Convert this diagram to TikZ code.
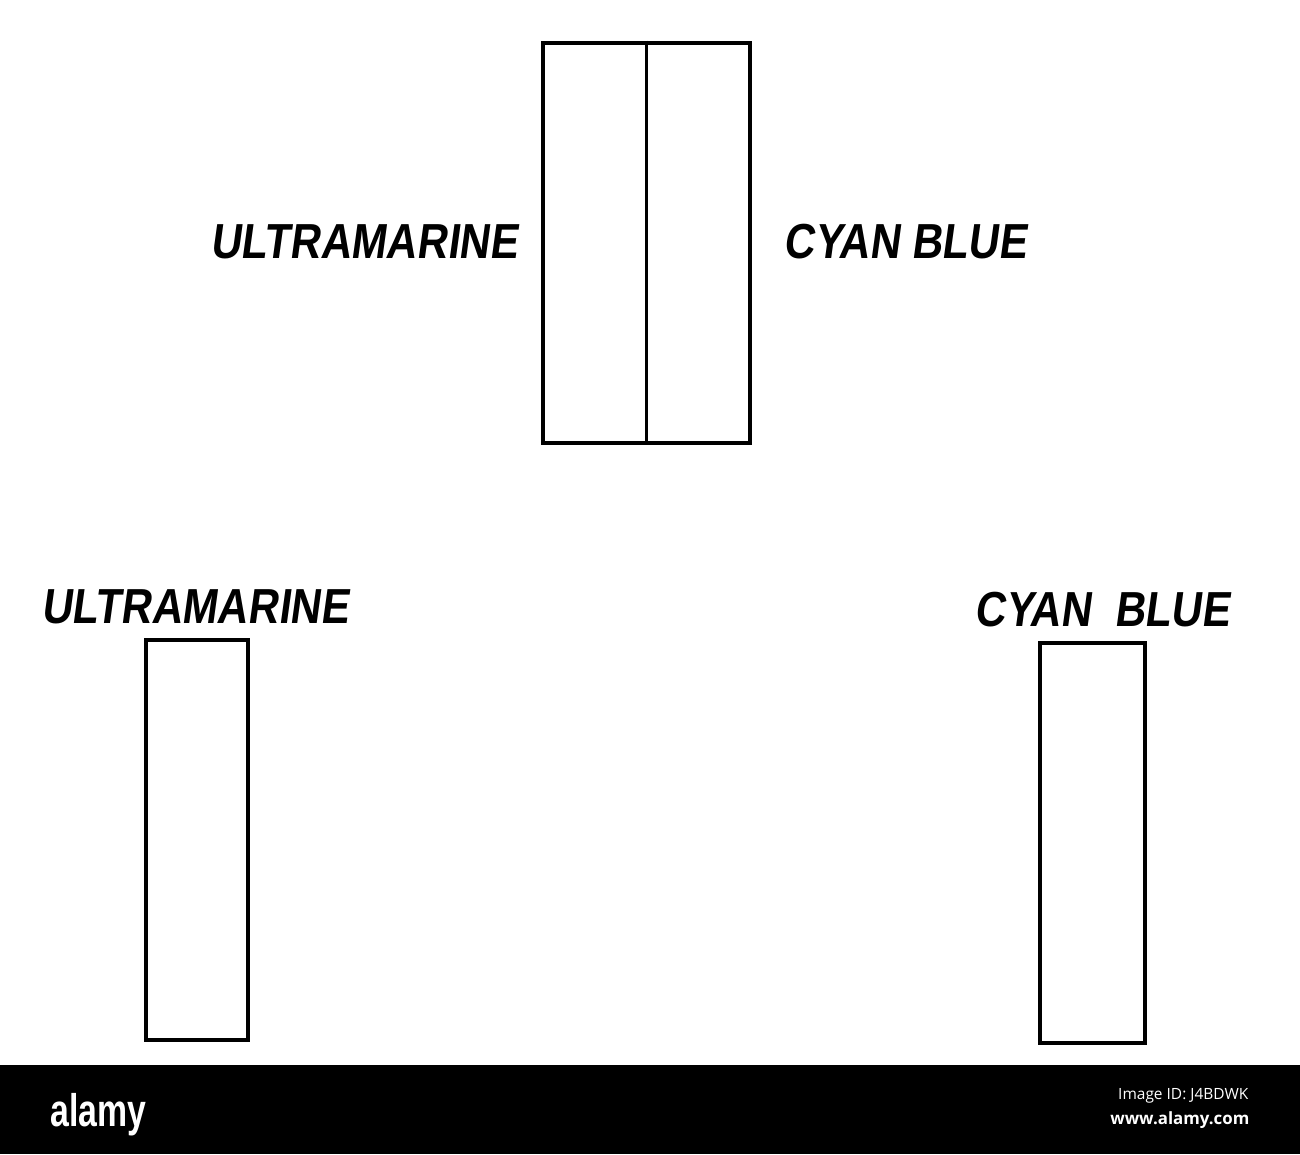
\documentclass[tikz,border=0pt]{standalone}
\usepackage{fontspec}
\newfontfamily\stencilfont[FakeSlant=0.16]{Liberation Sans Bold}
\newfontfamily\markfont{Open Sans}
\newfontfamily\brandfont{Liberation Sans Bold}
\begin{document}
\begin{tikzpicture}[
  every node/.style={inner sep=0pt},
  swatch/.style={draw, line width=1.1pt, minimum height=4cm},
  colourname/.style={font=\stencilfont\fontsize{14}{14}\selectfont, xscale=0.86}
]
\useasboundingbox (0,0) rectangle (13,11.54);
% paired swatches
\node[swatch, minimum width=2.07cm, line width=1.3pt] (pair) at (6.465,9.11) {};
\draw[line width=1.1pt] (pair.north) -- (pair.south);
\node[colourname] (pairleft) at (3.64,9.12) {ULTRAMARINE};
\node[colourname] (pairright) at (9.05,9.12) {CYAN BLUE};
% separate swatches
\node[swatch, minimum width=1.02cm] (ultra) at (1.97,3.14) {};
\node[swatch, minimum width=1.05cm] (cyan) at (10.925,3.11) {};
\node[colourname] (ultralabel) at (1.95,5.47) {ULTRAMARINE};
\node[colourname] (cyanlabel) at (11.02,5.44) {CYAN\ \ BLUE};
% stock banner
\fill (0,0) rectangle (13,0.89);
\node[text=white, font=\brandfont\fontsize{13}{13}\selectfont, xscale=0.74, anchor=base west] (brand) at (0.5,0.28) {alamy};
\node[text=white, font=\markfont\fontsize{4.4}{4.4}\selectfont, anchor=east] (imageid) at (12.49,0.58) {Image ID: J4BDWK};
\node[text=white, font=\markfont\bfseries\fontsize{4.8}{4.8}\selectfont, anchor=east] (site) at (12.5,0.34) {www.alamy.com};
\end{tikzpicture}
\end{document}
